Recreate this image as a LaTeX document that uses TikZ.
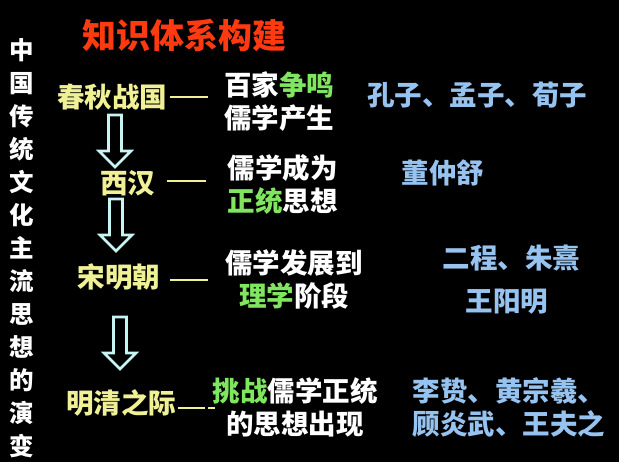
\documentclass[tikz,border=0pt]{standalone}
\usepackage{fontspec}
\setmainfont{Noto Sans CJK SC}
\usepackage{xcolor}
\usetikzlibrary{positioning, calc}
\definecolor{titlered}{RGB}{255,58,16}
\definecolor{erayellow}{RGB}{240,240,150}
\definecolor{keygreen}{RGB}{128,230,96}
\definecolor{nameblue}{RGB}{150,195,240}
\definecolor{arrowcyan}{RGB}{200,244,244}
\newcommand{\key}[1]{\textcolor{keygreen}{#1}}
\tikzset{
  txt/.style={inner sep=0pt, align=center, font=\fontsize{27.5}{33}\selectfont\bfseries},
  era/.style={txt, text=erayellow},
  desc/.style={txt, text=white},
  person/.style={txt, text=nameblue},
  dashline/.style={draw=erayellow, line width=2.2pt},
  pics/downarrow/.style={code={
    \draw[draw=arrowcyan, line width=2.6pt, fill=black, line join=miter]
      (-6.5,0) -- (-6.5,36) -- (-16,36) -- (0,52) -- (16,36) -- (6.5,36) -- (6.5,0) -- cycle;
  }},
}

\begin{document}
\begin{tikzpicture}[x=1pt, y=-1pt]
  \fill[black] (0,0) rectangle (619,462);
  \useasboundingbox (0,0) rectangle (619,462);

  \node[txt, text=titlered, font=\fontsize{34}{40}\selectfont\bfseries] (title) at (184,35) {知识体系构建};
  \node[txt, text=white, font=\fontsize{24.5}{33}\selectfont\bfseries] (side) at (22,248)
    {中\\国\\传\\统\\文\\化\\主\\流\\思\\想\\的\\演\\变};

  \node[era] (cq) at (112,97) {春秋战国};
  \node[era] (xh) at (127.5,183) {西汉};
  \node[era] (sm) at (119,277) {宋明朝};
  \node[era] (mq) at (121,403) {明清之际};

  \node[desc] (bj) at (279,101.5) {百家\key{争鸣}\\儒学产生};
  \node[desc] (rx) at (282.5,184.5) {儒学成为\\\key{正统}思想};
  \node[desc] (lx) at (294,279) {儒学发展到\\\key{理学}阶段};
  \node[desc] (tz) at (295,407) {\key{挑战}儒学正统\\的思想出现};

  \node[person] (kz) at (477,95) {孔子、孟子、荀子};
  \node[person] (dz) at (443,173) {董仲舒};
  \node[person] (ec) at (511.5,258) {二程、朱熹};
  \node[person] (wy) at (507,302) {王阳明};
  \node[person, align=left] (lz) at (509,407) {李贽、黄宗羲、\\顾炎武、王夫之};

  \draw[dashline] ([xshift=3pt]cq.east) -- ([xshift=-16pt]cq.east -| bj.west);
  \draw[dashline] ([xshift=12pt, yshift=2pt]xh.east) -- ([xshift=-21pt, yshift=2pt]xh.east -| rx.west);
  \draw[dashline] ([xshift=10pt, yshift=-3pt]sm.east) -- ([xshift=-17pt, yshift=-3pt]sm.east -| lx.west);
  \draw[dashline, dash pattern=on 27pt off 3pt on 8pt] ([xshift=2pt, yshift=-5pt]mq.east) -- ([xshift=3pt, yshift=-5pt]mq.east -| tz.west);

  \pic at (115,115) {downarrow};
  \pic at (116,199) {downarrow};
  \pic at (120,317) {downarrow};
\end{tikzpicture}
\end{document}
